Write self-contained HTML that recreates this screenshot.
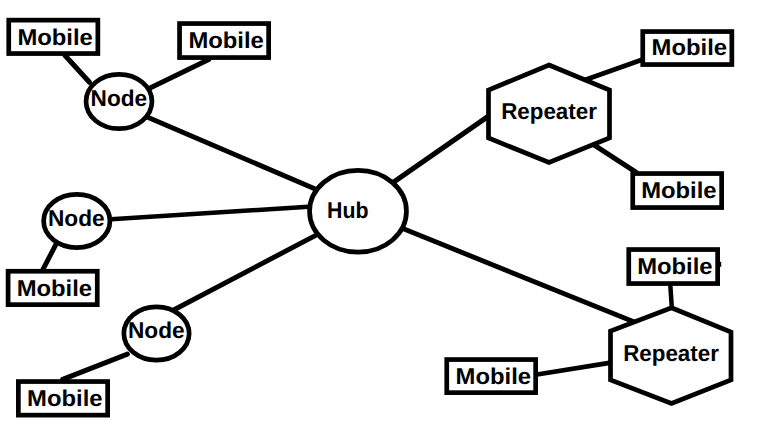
<!DOCTYPE html>
<html><head><meta charset="utf-8"><style>
html,body{margin:0;padding:0;background:#fff;width:768px;height:431px;overflow:hidden}
svg{display:block}
.lbl text{font-family:"Liberation Sans",sans-serif;font-weight:bold;text-rendering:geometricPrecision}
</style></head><body>
<svg width="768" height="431" viewBox="0 0 768 431">
<rect width="768" height="431" fill="#fff"/>
<g stroke="#000" stroke-width="4.5" stroke-linecap="round">
<line x1="64.83" y1="55.26" x2="89.47" y2="82.24" stroke-width="5.10"/>
<line x1="208.70" y1="59.46" x2="150.10" y2="87.94" stroke-width="4.95"/>
<line x1="147.08" y1="117.11" x2="316.42" y2="189.39" stroke-width="4.91"/>
<line x1="111.00" y1="219.36" x2="308.50" y2="206.74" stroke-width="4.49"/>
<line x1="42.74" y1="269.89" x2="56.06" y2="244.11" stroke-width="4.97"/>
<line x1="174.11" y1="309.77" x2="317.59" y2="234.33" stroke-width="4.98"/>
<line x1="62.67" y1="379.36" x2="127.43" y2="354.14" stroke-width="4.87"/>
<line x1="393.58" y1="182.07" x2="488.82" y2="115.93" stroke-width="5.06"/>
<line x1="585.56" y1="79.84" x2="641.94" y2="59.66" stroke-width="4.84"/>
<line x1="593.16" y1="144.46" x2="635.84" y2="172.14" stroke-width="5.04"/>
<line x1="401.57" y1="228.03" x2="634.33" y2="322.07" stroke-width="4.89"/>
<line x1="670.23" y1="284.00" x2="671.87" y2="308.50" stroke-width="4.49"/>
<line x1="537.01" y1="374.56" x2="610.99" y2="362.64" stroke-width="4.62"/>
</g>
<g stroke="#000" stroke-width="4.7" fill="#fff" stroke-linejoin="miter">
<rect x="8.75" y="20.15" width="89.10" height="33.40"/>
<rect x="179.55" y="23.55" width="89.10" height="34.00"/>
<rect x="8.10" y="271.25" width="89.15" height="33.40"/>
<rect x="18.35" y="381.55" width="89.30" height="33.60"/>
<rect x="642.75" y="31.55" width="89.10" height="33.00"/>
<rect x="632.75" y="173.55" width="88.90" height="34.00"/>
<rect x="628.75" y="249.55" width="88.90" height="34.00"/>
<rect x="446.75" y="359.55" width="88.90" height="33.10"/>
<ellipse cx="119" cy="101.5" rx="32.949999999999996" ry="27.15"/>
<ellipse cx="76.8" cy="221" rx="33.15" ry="26.65"/>
<ellipse cx="156.5" cy="333.5" rx="32.65" ry="26.65"/>
<ellipse cx="358" cy="211.3" rx="48.449999999999996" ry="40.85"/>
<polygon points="549,65 609.5,90 609.5,138 549,162.5 488.5,138 488.5,90"/>
<polygon points="671.5,307.8 731,332 731,380 671.5,403.5 610.5,380 610.5,331"/>
</g>
<rect x="719.8" y="261.8" width="1.4" height="5" fill="#000"/>
<g class="lbl" fill="#000">
<text x="17.43" y="45.33" font-size="22.8" textLength="75.4" lengthAdjust="spacingAndGlyphs">Mobile</text>
<text x="188.4" y="48.0" font-size="22.8" textLength="75.4" lengthAdjust="spacingAndGlyphs">Mobile</text>
<text x="16.7" y="295.6" font-size="22.8" textLength="75.4" lengthAdjust="spacingAndGlyphs">Mobile</text>
<text x="27.1" y="406.3" font-size="22.8" textLength="75.4" lengthAdjust="spacingAndGlyphs">Mobile</text>
<text x="651.6" y="55.4" font-size="22.8" textLength="75.4" lengthAdjust="spacingAndGlyphs">Mobile</text>
<text x="641.2" y="197.85" font-size="22.8" textLength="75.4" lengthAdjust="spacingAndGlyphs">Mobile</text>
<text x="637.2" y="274.0" font-size="22.8" textLength="75.4" lengthAdjust="spacingAndGlyphs">Mobile</text>
<text x="455.6" y="383.6" font-size="22.8" textLength="75.4" lengthAdjust="spacingAndGlyphs">Mobile</text>
<text x="90.6" y="106.2" font-size="22.8" textLength="56.6" lengthAdjust="spacingAndGlyphs">Node</text>
<text x="48.0" y="226.2" font-size="22.8" textLength="56.6" lengthAdjust="spacingAndGlyphs">Node</text>
<text x="128.0" y="338.2" font-size="22.8" textLength="56.6" lengthAdjust="spacingAndGlyphs">Node</text>
<text x="327.0" y="217.6" font-size="22.8" textLength="41.45" lengthAdjust="spacingAndGlyphs">Hub</text>
<text x="501.2" y="118.8" font-size="22.8" textLength="95.7" lengthAdjust="spacingAndGlyphs">Repeater</text>
<text x="623.2" y="360.7" font-size="22.8" textLength="95.7" lengthAdjust="spacingAndGlyphs">Repeater</text>
</g>
</svg>
</body></html>
